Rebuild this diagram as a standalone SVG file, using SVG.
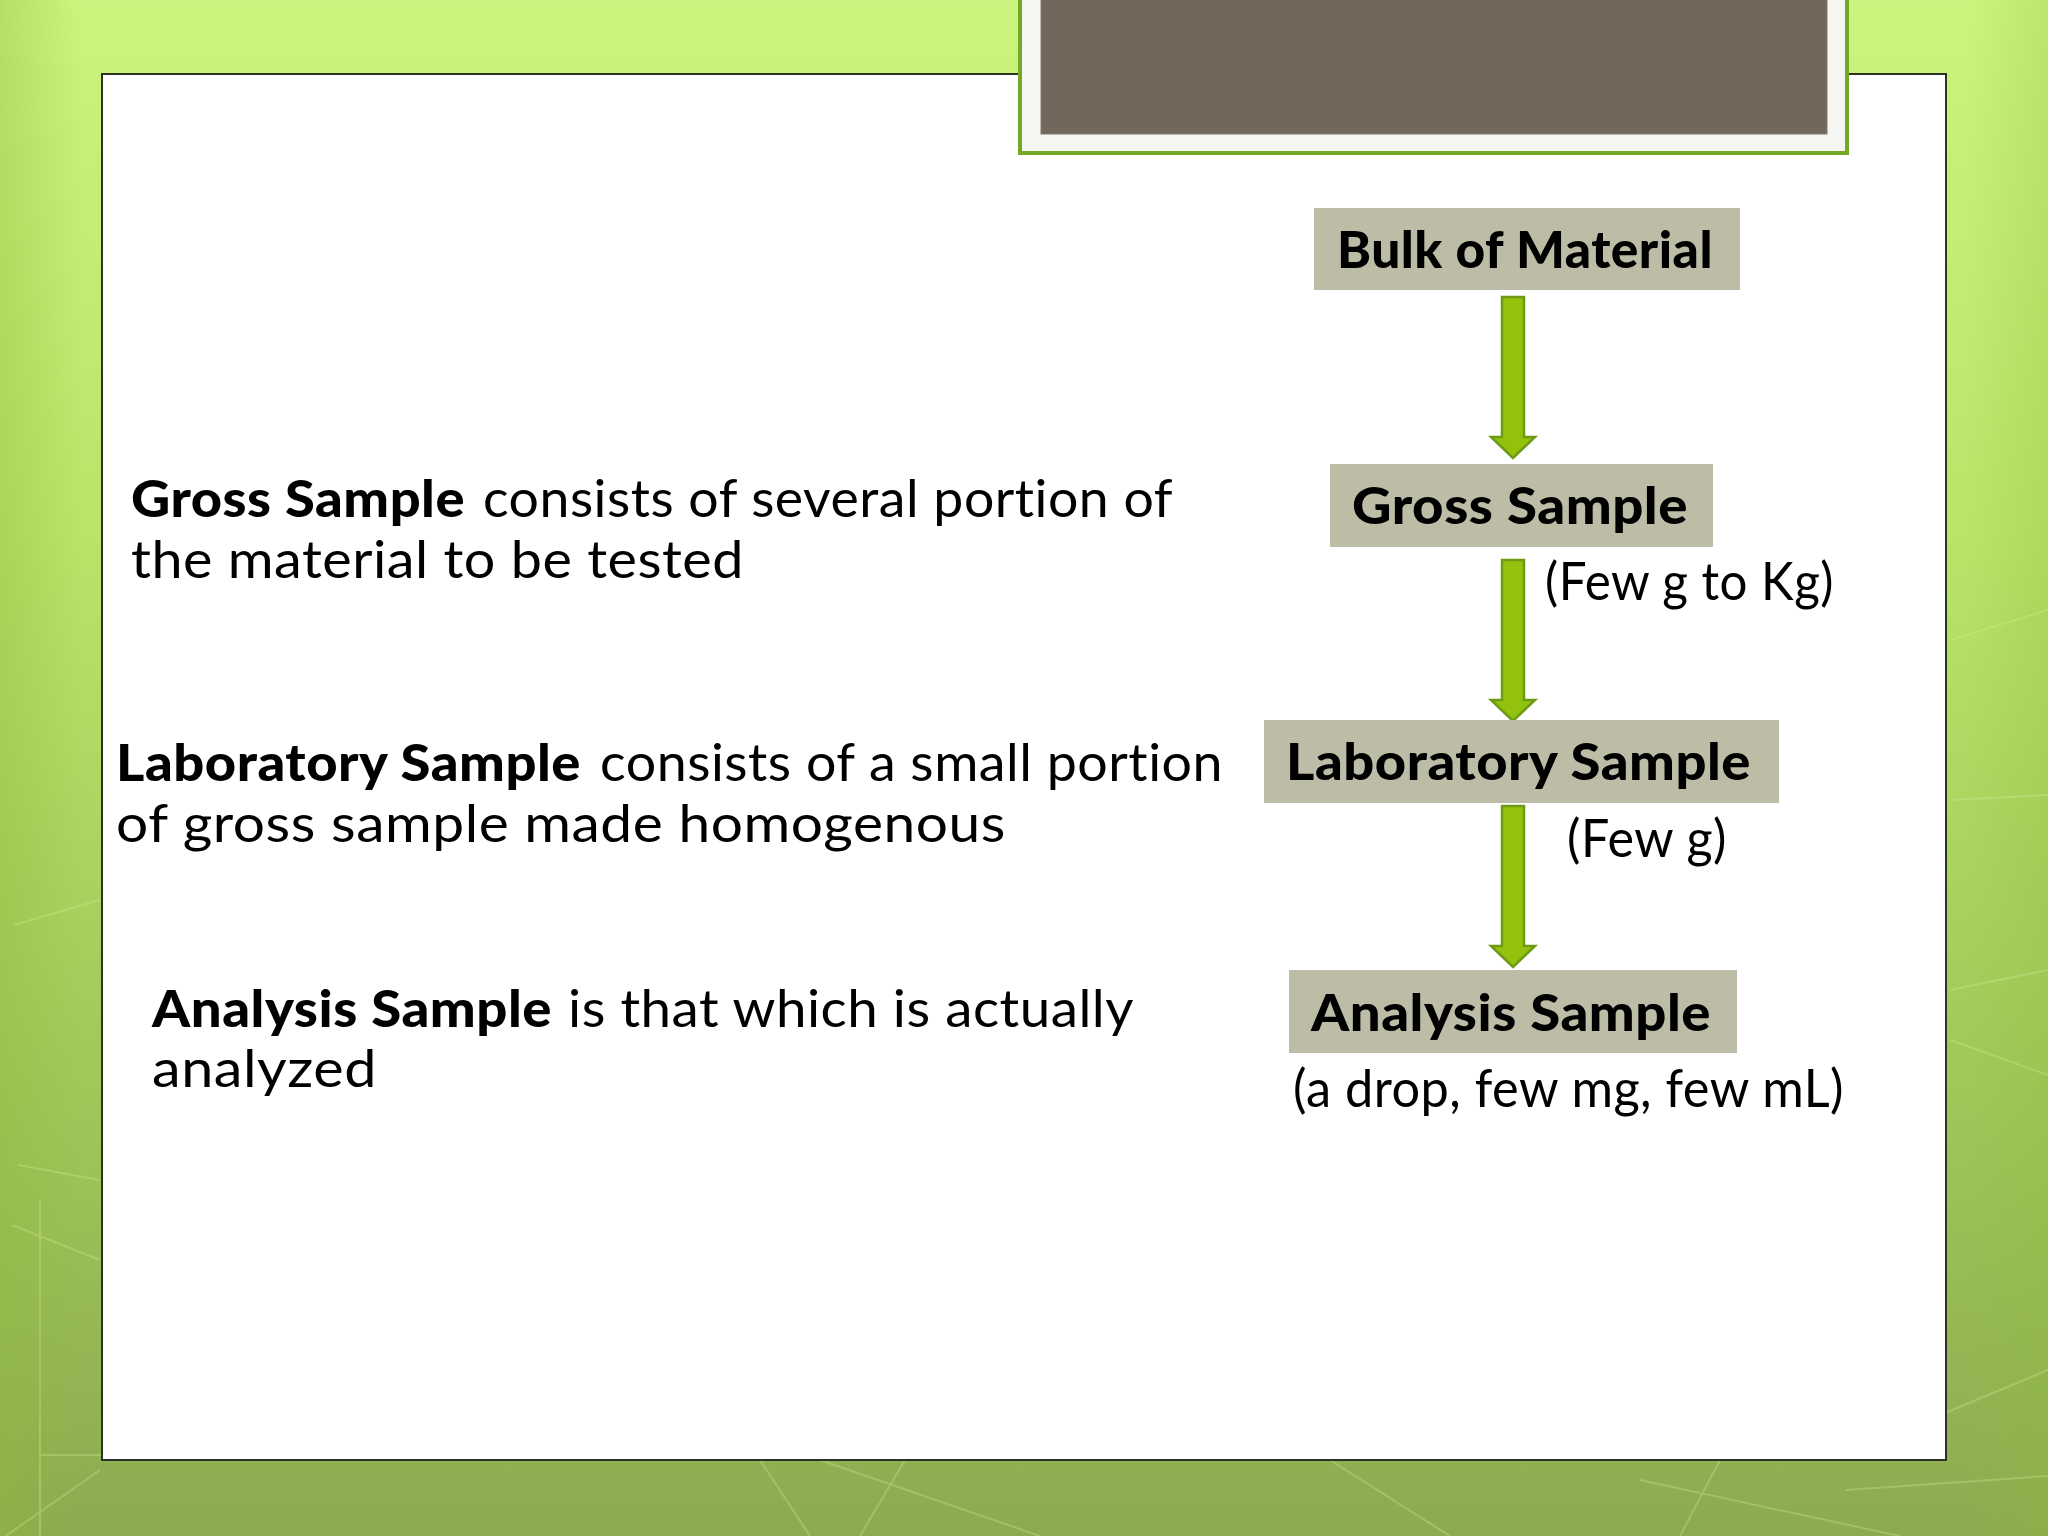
<svg xmlns="http://www.w3.org/2000/svg" width="2048" height="1536" viewBox="0 0 2048 1536">
<defs>
<linearGradient id="bg" x1="0" y1="0" x2="0" y2="1">
<stop offset="0" stop-color="#cdf47e"/>
<stop offset="0.35" stop-color="#b9e468"/>
<stop offset="0.7" stop-color="#a0c85a"/>
<stop offset="1" stop-color="#8cab50"/>
</linearGradient>
<linearGradient id="side" x1="0" y1="0" x2="1" y2="0">
<stop offset="0" stop-color="#8fb83a" stop-opacity="0.35"/>
<stop offset="0.04" stop-color="#8fb83a" stop-opacity="0"/>
<stop offset="0.96" stop-color="#8fb83a" stop-opacity="0"/>
<stop offset="1" stop-color="#8fb83a" stop-opacity="0.25"/>
</linearGradient>
<path id="arrow" d="M-11,0 H11 V140 H22 L0,161 L-22,140 H-11 Z"/>
</defs>
<style>
text{font-variant-ligatures:none;font-feature-settings:"liga" 0, "clig" 0, "dlig" 0;letter-spacing:0.5px;}
.node rect{fill:#bdbda7;}
.lbl{font-family:Lato,"DejaVu Sans",sans-serif;font-weight:900;font-size:52px;fill:#000;}
.body{font-family:Lato,"DejaVu Sans",sans-serif;font-size:52px;fill:#000;}
.bold{font-weight:900;}
.arr use{fill:#93c20e;stroke:#6f9a16;stroke-width:2.5;}
.deco{stroke:#d6ee9e;stroke-opacity:0.3;stroke-width:2;fill:none;}
</style>
<g id="background">
<rect x="0" y="0" width="2048" height="1536" fill="url(#bg)"/>
<rect x="0" y="0" width="2048" height="1536" fill="url(#side)"/>
<path class="deco" d="M14,925 L100,900 M18,1165 L100,1180 M12,1225 L100,1260 M40,1200 V1536 M40,1455 L110,1455 M0,1540 L100,1470 M1846,1490 L2048,1476 M1950,640 L2048,610 M1950,800 L2048,795 M1950,990 L2048,970 M1950,1040 L2048,1075 M1880,1440 L2048,1370 M760,1460 L810,1536 M860,1536 L905,1460 M820,1460 L1040,1536 M1330,1460 L1450,1536 M1680,1536 L1720,1460 M1640,1480 L1900,1536"/>
</g>
<g id="panel">
<rect x="102" y="74" width="1844" height="1386" fill="#ffffff" stroke="#2b3324" stroke-width="2"/>
</g>
<g id="header">
<rect x="1020" y="-4" width="827" height="157" fill="#f5f5f2" stroke="#76a827" stroke-width="4"/>
<rect x="1041" y="-4" width="786" height="138" fill="#72675b" stroke="#7e7a72" stroke-width="1"/>
</g>
<g id="connectors" class="arr">
<use href="#arrow" x="1513" y="297"/>
<use href="#arrow" x="1513" y="560"/>
<use href="#arrow" x="1513" y="806"/>
</g>
<g id="node-bulk" class="node">
<rect x="1314" y="208" width="426" height="82"/>
<text class="lbl" x="1337" y="268" textLength="376" lengthAdjust="spacingAndGlyphs">Bulk of Material</text>
</g>
<g id="node-gross" class="node">
<rect x="1330" y="464" width="383" height="83"/>
<text class="lbl" x="1352" y="524" textLength="336" lengthAdjust="spacingAndGlyphs">Gross Sample</text>
</g>
<g id="node-lab" class="node">
<rect x="1264" y="720" width="515" height="83"/>
<text class="lbl" x="1286" y="780" textLength="465" lengthAdjust="spacingAndGlyphs">Laboratory Sample</text>
</g>
<g id="node-analysis" class="node">
<rect x="1289" y="970" width="448" height="83"/>
<text class="lbl" x="1311" y="1031" textLength="400" lengthAdjust="spacingAndGlyphs">Analysis Sample</text>
</g>
<g id="labels">
<text class="body" x="1545" y="600" textLength="289" lengthAdjust="spacingAndGlyphs">(Few g to Kg)</text>
<text class="body" x="1567" y="857" textLength="160" lengthAdjust="spacingAndGlyphs">(Few g)</text>
<text class="body" x="1293" y="1107" textLength="551" lengthAdjust="spacingAndGlyphs">(a drop, few mg, few mL)</text>
</g>
<g id="desc-gross">
<text class="body bold" x="131" y="517" textLength="334" lengthAdjust="spacingAndGlyphs">Gross Sample</text>
<text class="body" x="483" y="517" textLength="690" lengthAdjust="spacingAndGlyphs">consists of several portion of</text>
<text class="body" x="131" y="578" textLength="613" lengthAdjust="spacingAndGlyphs">the material to be tested</text>
</g>
<g id="desc-lab">
<text class="body bold" x="116" y="781" textLength="465" lengthAdjust="spacingAndGlyphs">Laboratory Sample</text>
<text class="body" x="600" y="781" textLength="623" lengthAdjust="spacingAndGlyphs">consists of a small portion</text>
<text class="body" x="116" y="842" textLength="890" lengthAdjust="spacingAndGlyphs">of gross sample made homogenous</text>
</g>
<g id="desc-analysis">
<text class="body bold" x="152" y="1027" textLength="400" lengthAdjust="spacingAndGlyphs">Analysis Sample</text>
<text class="body" x="568" y="1027" textLength="566" lengthAdjust="spacingAndGlyphs">is that which is actually</text>
<text class="body" x="152" y="1087" textLength="225" lengthAdjust="spacingAndGlyphs">analyzed</text>
</g>
</svg>
